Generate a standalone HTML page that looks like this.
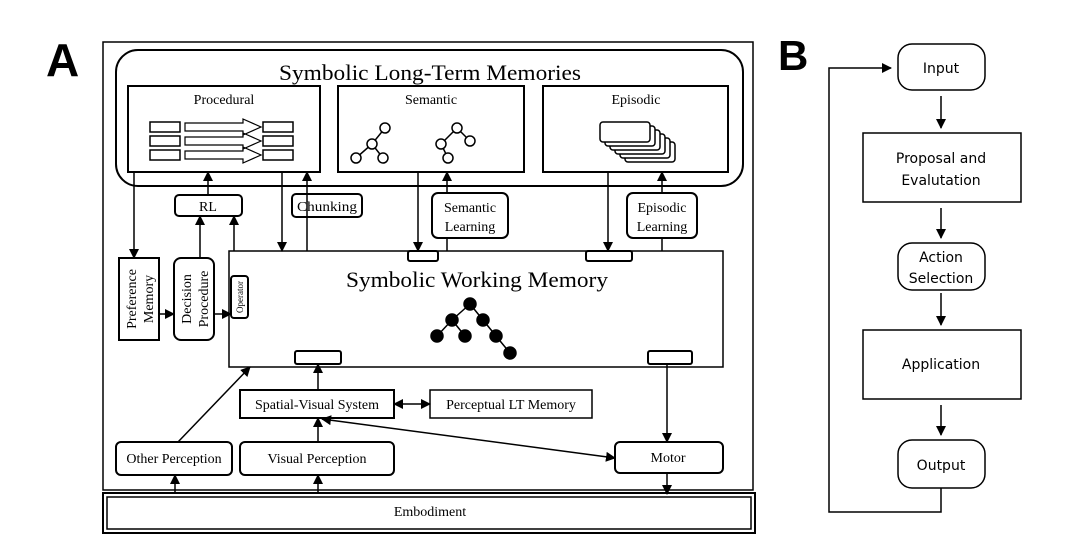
<!DOCTYPE html>
<html><head><meta charset="utf-8"><style>
html,body{margin:0;padding:0;background:#fff;}
svg{display:block;}
.s{font-family:"Liberation Serif",serif;fill:#000;}
.b{font-family:"DejaVu Sans","Liberation Sans",sans-serif;fill:#000;}
</style></head><body>
<svg width="1065" height="549" viewBox="0 0 1065 549" xmlns="http://www.w3.org/2000/svg">
<defs>
<marker id="a" markerWidth="10" markerHeight="10" refX="9" refY="5" orient="auto" markerUnits="userSpaceOnUse"><path d="M0,0 L10,5 L0,10 z" fill="#000"/></marker>
<marker id="as" markerWidth="10" markerHeight="10" refX="1" refY="5" orient="auto" markerUnits="userSpaceOnUse"><path d="M10,0 L0,5 L10,10 z" fill="#000"/></marker>
</defs>
<g stroke="#000" fill="none" stroke-width="1.5">
<rect x="103" y="42" width="650" height="448"/>
<rect x="103" y="493" width="652" height="40" stroke-width="2"/>
<rect x="107" y="497" width="644" height="32"/>
<rect x="116" y="50" width="627" height="136" rx="22" stroke-width="2"/>
<rect x="128" y="86" width="192" height="86" stroke-width="2"/>
<rect x="338" y="86" width="186" height="86" stroke-width="2"/>
<rect x="543" y="86" width="185" height="86" stroke-width="2"/>
<rect x="150" y="122" width="30" height="10"/><rect x="150" y="136" width="30" height="10"/><rect x="150" y="150" width="30" height="10"/>
<rect x="263" y="122" width="30" height="10"/><rect x="263" y="136" width="30" height="10"/><rect x="263" y="150" width="30" height="10"/>
<path d="M185,123 h58 v-4 l18,8 l-18,8 v-4 h-58z" stroke-width="1.2"/>
<path d="M185,137 h58 v-4 l18,8 l-18,8 v-4 h-58z" stroke-width="1.2"/>
<path d="M185,151 h58 v-4 l18,8 l-18,8 v-4 h-58z" stroke-width="1.2"/>
<path d="M385,128 L372,144 L356,158 M372,144 L383,158 M457,128 L441,144 L448,158 M457,128 L470,141"/>
<g fill="#fff"><circle cx="385" cy="128" r="5"/><circle cx="372" cy="144" r="5"/><circle cx="356" cy="158" r="5"/><circle cx="383" cy="158" r="5"/>
<circle cx="457" cy="128" r="5"/><circle cx="441" cy="144" r="5"/><circle cx="470" cy="141" r="5"/><circle cx="448" cy="158" r="5"/>
<rect x="625" y="142" width="50" height="20" rx="3"/><rect x="620" y="138" width="50" height="20" rx="3"/><rect x="615" y="134" width="50" height="20" rx="3"/><rect x="610" y="130" width="50" height="20" rx="3"/><rect x="605" y="126" width="50" height="20" rx="3"/><rect x="600" y="122" width="50" height="20" rx="3"/>
</g>
<rect x="175" y="195" width="67" height="21" rx="4" stroke-width="2"/>
<rect x="292" y="194" width="70" height="23" rx="4" stroke-width="2"/>
<rect x="432" y="193" width="76" height="45" rx="6" stroke-width="2"/>
<rect x="627" y="193" width="70" height="45" rx="6" stroke-width="2"/>
<rect x="229" y="251" width="494" height="116"/>
<rect x="408" y="251" width="30" height="10" rx="2" fill="#fff" stroke-width="2"/>
<rect x="586" y="251" width="46" height="10" rx="2" fill="#fff" stroke-width="2"/>
<rect x="295" y="351" width="46" height="13" rx="2" fill="#fff" stroke-width="2"/>
<rect x="648" y="351" width="44" height="13" rx="2" fill="#fff" stroke-width="2"/>
<path d="M470,304 L452,320 L437,336 M452,320 L465,336 M470,304 L483,320 L496,336 L510,353"/>
<g fill="#000"><circle cx="470" cy="304" r="6"/><circle cx="452" cy="320" r="6"/><circle cx="483" cy="320" r="6"/><circle cx="437" cy="336" r="6"/><circle cx="465" cy="336" r="6"/><circle cx="496" cy="336" r="6"/><circle cx="510" cy="353" r="6"/></g>
<rect x="119" y="258" width="40" height="82" stroke-width="2"/>
<rect x="174" y="258" width="40" height="82" rx="7" stroke-width="2"/>
<rect x="231" y="276" width="17" height="42" rx="3" stroke-width="2"/>
<rect x="240" y="390" width="154" height="28" stroke-width="2"/>
<rect x="430" y="390" width="162" height="28"/>
<rect x="116" y="442" width="116" height="33" rx="5" stroke-width="2"/>
<rect x="240" y="442" width="154" height="33" rx="5" stroke-width="2"/>
<rect x="615" y="442" width="108" height="31" rx="5" stroke-width="2"/>
<g marker-end="url(#a)">
<line x1="134" y1="172" x2="134" y2="258"/>
<line x1="208" y1="195" x2="208" y2="172"/>
<line x1="200" y1="258" x2="200" y2="216"/>
<line x1="234" y1="251" x2="234" y2="216"/>
<line x1="282" y1="172" x2="282" y2="251"/>
<line x1="307" y1="251" x2="307" y2="172"/>
<line x1="418" y1="172" x2="418" y2="251"/>
<line x1="447" y1="193" x2="447" y2="172"/>
<line x1="608" y1="172" x2="608" y2="251"/>
<line x1="662" y1="193" x2="662" y2="172"/>
<line x1="159" y1="314" x2="174" y2="314"/>
<line x1="214" y1="314" x2="231" y2="314"/>
<line x1="178" y1="442" x2="250" y2="367"/>
<line x1="318" y1="390" x2="318" y2="364"/>
<line x1="318" y1="442" x2="318" y2="418"/>
<line x1="667" y1="364" x2="667" y2="442"/>
<line x1="667" y1="473" x2="667" y2="494"/>
<line x1="175" y1="494" x2="175" y2="475"/>
<line x1="318" y1="494" x2="318" y2="475"/>
<line x1="394" y1="404" x2="430" y2="404" marker-start="url(#as)"/>
<line x1="322" y1="419" x2="615" y2="458" marker-start="url(#as)"/>
</g>
<line x1="447" y1="238" x2="447" y2="251"/>
<line x1="662" y1="238" x2="662" y2="251"/>
<rect x="898" y="44" width="87" height="46" rx="14"/>
<rect x="863" y="133" width="158" height="69"/>
<rect x="898" y="243" width="87" height="47" rx="14"/>
<rect x="863" y="330" width="158" height="69"/>
<rect x="898" y="440" width="87" height="48" rx="14"/>
<g marker-end="url(#a)">
<line x1="941" y1="96" x2="941" y2="128"/>
<line x1="941" y1="208" x2="941" y2="238"/>
<line x1="941" y1="293" x2="941" y2="325"/>
<line x1="941" y1="405" x2="941" y2="435"/>
<polyline points="941,488 941,512 829,512 829,68 891,68"/>
</g>
</g>
<text x="46" y="76" font-family="Liberation Sans,sans-serif" font-weight="bold" font-size="46">A</text>
<text x="778" y="70" font-family="Liberation Sans,sans-serif" font-weight="bold" font-size="42">B</text>
<g class="s" text-anchor="middle">
<text x="430" y="80" font-size="22" textLength="302" lengthAdjust="spacingAndGlyphs">Symbolic Long-Term Memories</text>
<text x="224" y="104" font-size="14">Procedural</text>
<text x="431" y="104" font-size="14">Semantic</text>
<text x="636" y="104" font-size="14">Episodic</text>
<text x="208" y="211" font-size="14">RL</text>
<text x="327" y="211" font-size="14" textLength="60" lengthAdjust="spacingAndGlyphs">Chunking</text>
<text x="470" y="212" font-size="14">Semantic</text>
<text x="470" y="231" font-size="14">Learning</text>
<text x="662" y="212" font-size="14">Episodic</text>
<text x="662" y="231" font-size="14">Learning</text>
<text x="477" y="287" font-size="22" textLength="262" lengthAdjust="spacingAndGlyphs">Symbolic Working Memory</text>
<text transform="translate(136,299) rotate(-90)" font-size="14">Preference</text>
<text transform="translate(153,299) rotate(-90)" font-size="14">Memory</text>
<text transform="translate(191,299) rotate(-90)" font-size="14">Decision</text>
<text transform="translate(208,299) rotate(-90)" font-size="14">Procedure</text>
<text transform="translate(243,297) rotate(-90)" font-size="9">Operator</text>
<text x="317" y="409" font-size="14">Spatial-Visual System</text>
<text x="511" y="409" font-size="14">Perceptual LT Memory</text>
<text x="174" y="463" font-size="14">Other Perception</text>
<text x="317" y="463" font-size="14">Visual Perception</text>
<text x="668" y="462" font-size="14">Motor</text>
<text x="430" y="516" font-size="14">Embodiment</text>
</g>
<g class="b" text-anchor="middle" font-size="14">
<text x="941" y="73">Input</text>
<text x="941" y="163">Proposal and</text>
<text x="941" y="185">Evalutation</text>
<text x="941" y="262">Action</text>
<text x="941" y="283">Selection</text>
<text x="941" y="369">Application</text>
<text x="941" y="470">Output</text>
</g>
</svg>
</body></html>
